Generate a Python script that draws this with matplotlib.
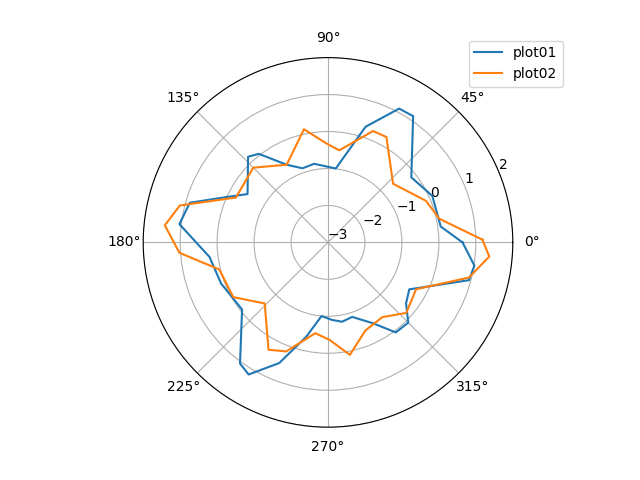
import numpy as np
import matplotlib
matplotlib.use("Agg")
import matplotlib.pyplot as plt

blue_deg = [0, 8, 24, 38, 56, 62, 72, 84, 100, 109, 118, 128, 133, 149, 157, 164, 173,
            187, 201, 218, 234, 239, 248, 257, 265, 273, 280, 288, 299, 307, 315, 322, 330, 345, 351]
blue_r = [0.64, 0.08, 0.09, -0.14, 1.12, 1.10, 0.29, -0.99, -0.84, -0.88, -0.62, 0.04, 0.17, -0.46, 0.10, 0.89, 1.05,
          0.23, 0.10, -0.05, 1.05, 1.17, 0.52, -0.38, -1.00, -0.90, -0.82, -0.88, -0.50, 0.05, 0.07, -0.32, -0.46, 0.95, 1.01]

orange_deg = [1, 12, 23, 42, 61, 68, 83, 91, 102, 118, 135, 154, 166, 174,
              184, 194, 210, 224, 241, 249, 262, 271, 281, 293, 306, 318, 332, 346, 355]
orange_r = [1.18, 0.08, -0.12, -0.63, 0.26, 0.25, -0.49, -0.32, 0.13, -0.62, -0.14, -0.23, 1.13, 1.44,
            1.03, 0.03, -0.04, -0.62, 0.32, 0.16, -0.52, -0.36, 0.10, -0.41, -0.50, -0.15, -0.30, 0.93, 1.38]

fig = plt.figure(figsize=(6.4, 4.8), dpi=100)
ax = fig.add_subplot(projection='polar')
tb = np.deg2rad(blue_deg + [blue_deg[0] + 360])
ax.plot(tb, blue_r + [blue_r[0]], color='#1f77b4', label='plot01')
to = np.deg2rad(orange_deg + [orange_deg[0] + 360])
ax.plot(to, orange_r + [orange_r[0]], color='#ff7f0e', label='plot02')
ax.set_rlim(-3, 2)
ax.set_rticks([-3, -2, -1, 0, 1, 2])
ax.legend(loc='upper right', bbox_to_anchor=(1.155, 1.065))
fig.savefig('out.png')
